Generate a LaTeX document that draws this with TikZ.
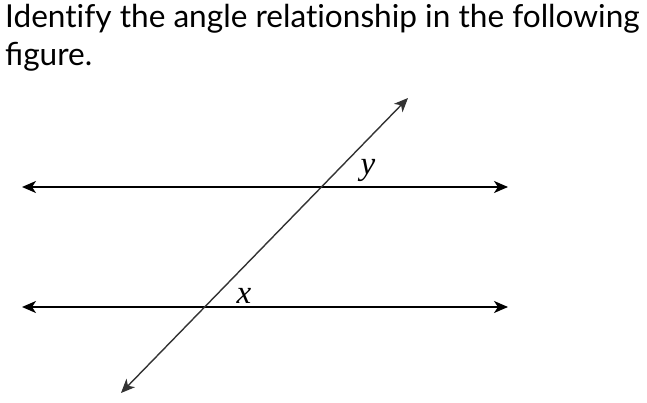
\documentclass[tikz,border=0pt]{standalone}
\usepackage{fontspec}
\newfontfamily\titlefont{Lato}
\newfontfamily\labelfont{Liberation Serif}
\usetikzlibrary{arrows.meta,positioning}

\tikzset{
  parline/.style={line width=2pt, black, {Stealth[length=14pt,width=12pt,inset=4pt]}-{Stealth[length=14pt,width=12pt,inset=4pt]}},
  transline/.style={line width=1.4pt, black!80, {Stealth[length=14pt,width=12pt,inset=4pt]}-{Stealth[length=14pt,width=12pt,inset=4pt]}},
  title/.style={anchor=base west, inner sep=0pt, font=\titlefont\fontsize{31.6}{37}\selectfont},
  anglabel/.style={inner sep=0pt, font=\labelfont\itshape\fontsize{33}{33}\selectfont}
}

\begin{document}
\begin{tikzpicture}[x=1pt, y=-1pt]
  \useasboundingbox (0,0) rectangle (647,403);

  % question text
  \node[title] (q1) at (5,28) {Ident\kern0pt ify the angle relat\kern0pt ionship in the following};
  \node[title] (q2) at (5,66) {figure.};

  % end points of the lines
  \coordinate (a1) at (22,187);
  \coordinate (a2) at (508,187);
  \coordinate (b1) at (22,307);
  \coordinate (b2) at (508,307);
  \coordinate (t1) at (121,393);
  \coordinate (t2) at (408,98);

  \draw[parline] (a1) -- (a2);
  \draw[parline] (b1) -- (b2);
  \draw[transline] (t1) -- (t2);

  % angle labels
  \node[anglabel] (y) at (368,170) {y};
  \node[anglabel] (x) at (244,296) {x};
\end{tikzpicture}
\end{document}
